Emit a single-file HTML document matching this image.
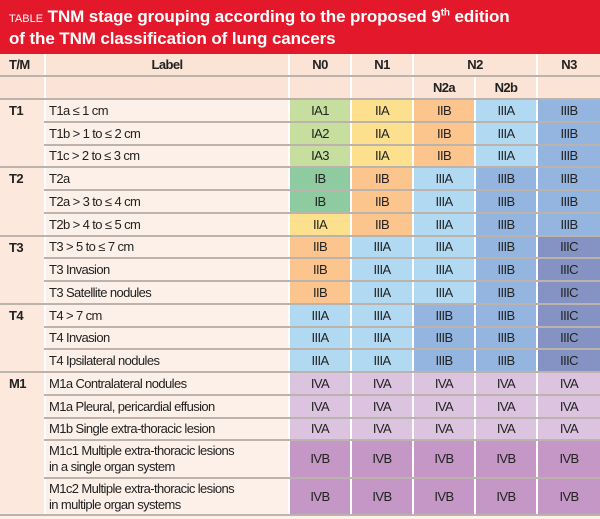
<!DOCTYPE html>
<html><head><meta charset="utf-8"><style>
html,body{margin:0;padding:0;background:#fdf0e8;}
body{width:600px;height:519px;overflow:hidden;font-family:"Liberation Sans",sans-serif;}
.hd{background:#e3192b;color:#fff;height:54px;box-sizing:border-box;padding:7px 0 0 9px;font-weight:bold;font-size:17px;line-height:19px;letter-spacing:-0.1px}
.hd small{font-weight:normal;font-size:11px;letter-spacing:0}
table{border-collapse:collapse;table-layout:fixed;width:600px;font-size:13px;letter-spacing:-0.6px;color:#222}
td{padding:0;border-bottom:2px solid #bdb3ad;border-left:2px solid #fff;text-align:center;overflow:hidden;white-space:nowrap}
td.tm,tr.h td.first{border-left:none}
tr.h td{background:#fbe3d6;font-weight:bold;height:21px}
td.tm{text-align:left;padding-left:9px;font-weight:bold;vertical-align:top;padding-top:3px;background:#fce8dc}
td.l{text-align:left;padding-left:3px;border-left:2px solid #fff}
tr.r td{height:20.75px}
tr.d td{height:35.5px;line-height:16px}
.a1{background:#c6df9f}.b{background:#8fcba0}.y{background:#fde08e}.o{background:#fbc58d}
.c{background:#b2d9f2}.e{background:#94b5df}.f{background:#8593c4}.v{background:#dcc3e0}.w{background:#c497c6}
</style></head><body>
<div class="hd"><small>TABLE</small> TNM stage grouping according to the proposed 9<sup style="font-size:10px;line-height:0">th</sup> edition<br>of the TNM classification of lung cancers</div>
<table>
<colgroup><col style="width:45px"><col style="width:244px"><col style="width:62px"><col style="width:62px"><col style="width:62px"><col style="width:62px"><col style="width:63px"></colgroup>
<tr class="h"><td class="first" style="text-align:left;padding-left:9px">T/M</td><td>Label</td><td>N0</td><td>N1</td><td colspan="2">N2</td><td>N3</td></tr>
<tr class="h"><td class="first"></td><td></td><td></td><td></td><td>N2a</td><td>N2b</td><td></td></tr>
<tr class="r"><td class="tm" rowspan="3">T1</td><td class="l">T1a ≤ 1 cm</td><td class="a1">IA1</td><td class="y">IIA</td><td class="o">IIB</td><td class="c">IIIA</td><td class="e">IIIB</td></tr>
<tr class="r"><td class="l">T1b &gt; 1 to ≤ 2 cm</td><td class="a1">IA2</td><td class="y">IIA</td><td class="o">IIB</td><td class="c">IIIA</td><td class="e">IIIB</td></tr>
<tr class="r"><td class="l">T1c &gt; 2 to ≤ 3 cm</td><td class="a1">IA3</td><td class="y">IIA</td><td class="o">IIB</td><td class="c">IIIA</td><td class="e">IIIB</td></tr>
<tr class="r"><td class="tm" rowspan="3">T2</td><td class="l">T2a</td><td class="b">IB</td><td class="o">IIB</td><td class="c">IIIA</td><td class="e">IIIB</td><td class="e">IIIB</td></tr>
<tr class="r"><td class="l">T2a &gt; 3 to ≤ 4 cm</td><td class="b">IB</td><td class="o">IIB</td><td class="c">IIIA</td><td class="e">IIIB</td><td class="e">IIIB</td></tr>
<tr class="r"><td class="l">T2b &gt; 4 to ≤ 5 cm</td><td class="y">IIA</td><td class="o">IIB</td><td class="c">IIIA</td><td class="e">IIIB</td><td class="e">IIIB</td></tr>
<tr class="r"><td class="tm" rowspan="3">T3</td><td class="l">T3 &gt; 5 to ≤ 7 cm</td><td class="o">IIB</td><td class="c">IIIA</td><td class="c">IIIA</td><td class="e">IIIB</td><td class="f">IIIC</td></tr>
<tr class="r"><td class="l">T3 Invasion</td><td class="o">IIB</td><td class="c">IIIA</td><td class="c">IIIA</td><td class="e">IIIB</td><td class="f">IIIC</td></tr>
<tr class="r"><td class="l">T3 Satellite nodules</td><td class="o">IIB</td><td class="c">IIIA</td><td class="c">IIIA</td><td class="e">IIIB</td><td class="f">IIIC</td></tr>
<tr class="r"><td class="tm" rowspan="3">T4</td><td class="l">T4 &gt; 7 cm</td><td class="c">IIIA</td><td class="c">IIIA</td><td class="e">IIIB</td><td class="e">IIIB</td><td class="f">IIIC</td></tr>
<tr class="r"><td class="l">T4 Invasion</td><td class="c">IIIA</td><td class="c">IIIA</td><td class="e">IIIB</td><td class="e">IIIB</td><td class="f">IIIC</td></tr>
<tr class="r"><td class="l">T4 Ipsilateral nodules</td><td class="c">IIIA</td><td class="c">IIIA</td><td class="e">IIIB</td><td class="e">IIIB</td><td class="f">IIIC</td></tr>
<tr class="r"><td class="tm" rowspan="5">M1</td><td class="l">M1a Contralateral nodules</td><td class="v">IVA</td><td class="v">IVA</td><td class="v">IVA</td><td class="v">IVA</td><td class="v">IVA</td></tr>
<tr class="r"><td class="l">M1a Pleural, pericardial effusion</td><td class="v">IVA</td><td class="v">IVA</td><td class="v">IVA</td><td class="v">IVA</td><td class="v">IVA</td></tr>
<tr class="r"><td class="l">M1b Single extra-thoracic lesion</td><td class="v">IVA</td><td class="v">IVA</td><td class="v">IVA</td><td class="v">IVA</td><td class="v">IVA</td></tr>
<tr class="d"><td class="l">M1c1 Multiple extra-thoracic lesions<br>in a single organ system</td><td class="w">IVB</td><td class="w">IVB</td><td class="w">IVB</td><td class="w">IVB</td><td class="w">IVB</td></tr>
<tr class="d"><td class="l">M1c2 Multiple extra-thoracic lesions<br>in multiple organ systems</td><td class="w">IVB</td><td class="w">IVB</td><td class="w">IVB</td><td class="w">IVB</td><td class="w">IVB</td></tr>
</table>
</body></html>
